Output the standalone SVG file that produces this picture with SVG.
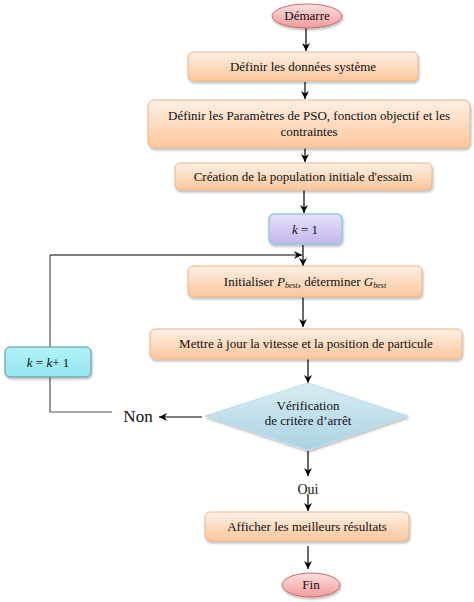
<svg xmlns="http://www.w3.org/2000/svg" width="474" height="602" viewBox="0 0 474 602">
<defs>
<linearGradient id="gOr" x1="0" y1="0" x2="0" y2="1"><stop offset="0" stop-color="#fef0e4"/><stop offset="1" stop-color="#fbc69c"/></linearGradient>
<linearGradient id="gPk" x1="0" y1="0" x2="0" y2="1"><stop offset="0" stop-color="#fde0e0"/><stop offset="1" stop-color="#f29a9a"/></linearGradient>
<linearGradient id="gPu" x1="0" y1="0" x2="0" y2="1"><stop offset="0" stop-color="#e6e0fa"/><stop offset="1" stop-color="#c3b6ee"/></linearGradient>
<linearGradient id="gCy" x1="0" y1="0" x2="0" y2="1"><stop offset="0" stop-color="#b2f2f8"/><stop offset="1" stop-color="#93e6f0"/></linearGradient>
<linearGradient id="gBl" x1="0" y1="0" x2="0" y2="1"><stop offset="0" stop-color="#d9ecf2"/><stop offset="1" stop-color="#a9d3e2"/></linearGradient>
<filter id="sh" x="-10%" y="-20%" width="120%" height="150%"><feDropShadow dx="1" dy="2" stdDeviation="1.2" flood-color="#000" flood-opacity="0.25"/></filter>
<marker id="ah" viewBox="0 0 10 10" refX="10" refY="5" markerWidth="8" markerHeight="8" markerUnits="userSpaceOnUse" orient="auto"><path d="M0,0 L10,5 L0,10 L3,5 z" fill="#000"/></marker>
</defs>
<style>
text{font-family:"Liberation Serif","DejaVu Serif","Times New Roman",serif}
.t{font-size:13px;fill:#111;text-anchor:middle}
.box{fill:url(#gOr);stroke:#eab48c;stroke-width:1;filter:url(#sh)}
.ell{fill:url(#gPk);stroke:#c46a6a;stroke-width:1;filter:url(#sh)}
.ln{fill:none;stroke:#000;stroke-width:1.2}
.lg{fill:none;stroke:#555;stroke-width:1.2}
</style>
<rect width="474" height="602" fill="#fff"/>
<g id="connectors">
<line class="ln" x1="306" y1="28" x2="306" y2="51" marker-end="url(#ah)"/>
<line class="ln" x1="305" y1="82" x2="305" y2="99" marker-end="url(#ah)"/>
<line class="ln" x1="305" y1="148" x2="305" y2="162" marker-end="url(#ah)"/>
<line class="ln" x1="304" y1="190" x2="304" y2="213" marker-end="url(#ah)"/>
<line class="ln" x1="303" y1="245" x2="303" y2="266" marker-end="url(#ah)"/>
<line class="ln" x1="303" y1="297" x2="303" y2="327" marker-end="url(#ah)"/>
<line class="ln" x1="308" y1="359" x2="308" y2="383" marker-end="url(#ah)"/>
<line class="ln" x1="202" y1="417" x2="159" y2="417" marker-end="url(#ah)"/>
<polyline class="lg" points="112,412 50,412 50,377"/>
<line class="lg" x1="50" y1="347" x2="50" y2="255"/>
<line class="ln" x1="50" y1="255" x2="302" y2="255" marker-end="url(#ah)"/>
<line class="ln" x1="308" y1="451" x2="308" y2="476" marker-end="url(#ah)"/>
<line class="ln" x1="308" y1="494" x2="308" y2="511" marker-end="url(#ah)"/>
<line class="ln" x1="308" y1="546" x2="308" y2="569" marker-end="url(#ah)"/>
</g>
<g id="start"><ellipse class="ell" cx="307" cy="16" rx="35" ry="12"/><text class="t" x="307" y="20">Démarre</text></g>
<g id="n1"><rect class="box" x="188" y="52" width="230" height="29" rx="5"/><text class="t" x="303" y="71">Définir les données système</text></g>
<g id="n2"><rect class="box" x="148" y="100" width="322" height="48" rx="6"/><text class="t" x="309" y="120">Définir les Paramètres de PSO, fonction objectif et  les</text><text class="t" x="309" y="136">contraintes</text></g>
<g id="n3"><rect class="box" x="175" y="163" width="257" height="27" rx="5"/><text class="t" x="303" y="181">Création de la population initiale d'essaim</text></g>
<g id="k1"><rect x="269" y="214" width="73" height="30" rx="5" fill="url(#gPu)" stroke="#8ccbe0" stroke-width="1.5" filter="url(#sh)"/><text class="t" x="305" y="234"><tspan font-style="italic">k</tspan> = 1</text></g>
<g id="n4"><rect class="box" x="188" y="266" width="234" height="31" rx="5"/><text class="t" x="305" y="286">Initialiser <tspan font-style="italic">P</tspan><tspan font-style="italic" font-size="8" dy="2">best</tspan><tspan dy="-2">, déterminer </tspan><tspan font-style="italic">G</tspan><tspan font-style="italic" font-size="8" dy="2">best</tspan></text></g>
<g id="n5"><rect class="box" x="150" y="329" width="312" height="30" rx="5"/><text class="t" x="306" y="348">Mettre à jour la vitesse et la position de particule</text></g>
<g id="kk"><rect x="5" y="347" width="86" height="30" rx="5" fill="url(#gCy)" stroke="#5f8f9c" stroke-width="1" filter="url(#sh)"/><text class="t" x="48" y="367"><tspan font-style="italic">k</tspan> = <tspan font-style="italic">k</tspan>+ 1</text></g>
<g id="dec"><polygon points="308,383 408,416 308,450 205,416" fill="url(#gBl)" stroke="#bcdde8" stroke-width="1" filter="url(#sh)"/><text class="t" x="308" y="410">Vérification</text><text class="t" x="308" y="425">de critère d’arrêt</text></g>
<g id="lblNon"><text x="138" y="422" style="font-size:17px;fill:#111;text-anchor:middle">Non</text></g>
<g id="lblOui"><text x="308" y="494" style="font-size:14px;fill:#111;text-anchor:middle">Oui</text></g>
<g id="n6"><rect class="box" x="205" y="512" width="204" height="29" rx="5"/><text class="t" x="307" y="531">Afficher les meilleurs résultats</text></g>
<g id="end"><ellipse class="ell" cx="311" cy="585" rx="29" ry="12"/><text class="t" x="311" y="589">Fin</text></g>
</svg>
